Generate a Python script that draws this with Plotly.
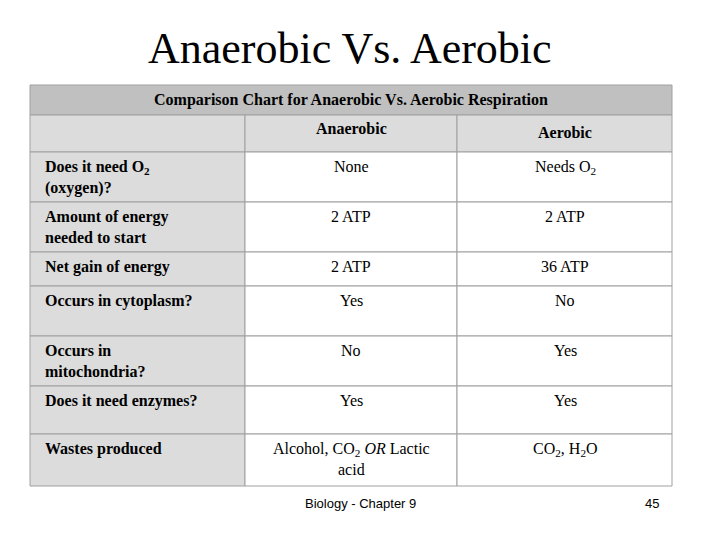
import plotly.graph_objects as go

title = "Anaerobic Vs. Aerobic"
table_title = "Comparison Chart for Anaerobic Vs. Aerobic Respiration"
columns = ["", "Anaerobic", "Aerobic"]
row_labels = [
    "Does it need O<sub>2</sub><br>(oxygen)?",
    "Amount of energy<br>needed to start",
    "Net gain of energy",
    "Occurs in cytoplasm?",
    "Occurs in<br>mitochondria?",
    "Does it need enzymes?",
    "Wastes produced",
]
anaerobic = ["None", "2 ATP", "2 ATP", "Yes", "No", "Yes",
             "Alcohol, CO<sub>2</sub> <i>OR</i> Lactic<br>acid"]
aerobic = ["Needs O<sub>2</sub>", "2 ATP", "36 ATP", "No", "Yes", "Yes",
           "CO<sub>2</sub>, H<sub>2</sub>O"]

# layout (pixels)
col_x = [30, 245, 457, 672]
row_y = [152, 202, 252, 286, 336, 386, 434, 486]
top_y, head_y = 85, 115
line = "#a0a0a0"
serif = "Liberation Serif, Times New Roman, DejaVu Serif, serif"

fig = go.Figure()
shapes, ann = [], []

def rect(x0, y0, x1, y1, fill):
    shapes.append(dict(type="rect", x0=x0, y0=y0, x1=x1, y1=y1, xref="x", yref="y",
                       fillcolor=fill, line=dict(color=line, width=1), layer="below"))

rect(col_x[0], top_y, col_x[3], head_y, "#c0c0c0")
for i in range(3):
    rect(col_x[i], head_y, col_x[i + 1], row_y[0], "#dcdcdc")
for r in range(len(row_labels)):
    for i in range(3):
        rect(col_x[i], row_y[r], col_x[i + 1], row_y[r + 1], "#dcdcdc" if i == 0 else "white")

def text(x, y, s, size=16, xanchor="center", yanchor="top", bold=False, font=serif, align="center"):
    ann.append(dict(x=x, y=y, xref="x", yref="y", text=s,
                    showarrow=False, xanchor=xanchor, yanchor=yanchor, align=align,
                    font=dict(family=font, size=size, color="black",
                              weight="bold" if bold else "normal")))

text(350, 48, title, size=44, yanchor="middle")
text(351, 100, table_title, size=16, yanchor="middle", bold=True)
text(351, 118, columns[1], bold=True)
text(565, 122, columns[2], bold=True)
for r, lab in enumerate(row_labels):
    y = row_y[r] + 4
    text(43, y, lab, xanchor="left", bold=True, align="left")
    text(351, y, anaerobic[r])
    text(565, y, aerobic[r])

text(360, 503, "Biology - Chapter 9", size=13, yanchor="middle", font="Liberation Sans")
text(652, 503, "45", size=13, yanchor="middle", font="Liberation Sans")

# ranges shifted by 8px to offset the page's default body margin
fig.update_layout(
    width=720, height=540, margin=dict(l=0, r=0, t=0, b=0),
    plot_bgcolor="white", paper_bgcolor="white",
    xaxis=dict(range=[8, 728], visible=False, fixedrange=True),
    yaxis=dict(range=[548, 8], visible=False, fixedrange=True),
    shapes=shapes, annotations=ann, showlegend=False,
)
fig.write_html("out.html")
